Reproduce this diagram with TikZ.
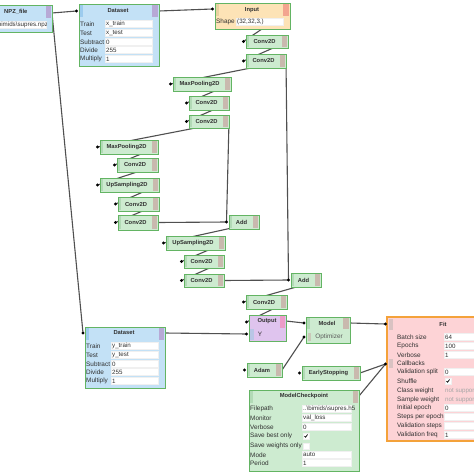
\documentclass[tikz,border=0pt]{standalone}
\usepackage{fontspec}
\setmainfont{Liberation Sans}
\pgfdeclarelayer{bg}
\pgfdeclarelayer{paper}
\pgfsetlayers{paper,bg,main}
\definecolor{gfillc}{HTML}{CDEBD0}
\definecolor{gbordc}{HTML}{63B463}
\definecolor{gbarc}{HTML}{C9B9AE}
\definecolor{gstripc}{HTML}{B2DAB6}
\definecolor{bfillc}{HTML}{C3E1F6}
\definecolor{bstripc}{HTML}{9CCBEE}
\definecolor{bbarc}{HTML}{B7A9D6}
\definecolor{ifillc}{HTML}{FDE3B6}
\definecolor{ibarc}{HTML}{F3A58F}
\definecolor{istripc}{HTML}{E8D2A0}
\definecolor{ofillc}{HTML}{DFC4EE}
\definecolor{obarc}{HTML}{EC9CC8}
\definecolor{ostripc}{HTML}{B9C6E6}
\definecolor{ffillc}{HTML}{FDD3D6}
\definecolor{fbordc}{HTML}{F4A23A}
\definecolor{fbarc}{HTML}{D9C2C2}
\definecolor{edgec}{HTML}{505050}
\definecolor{labc}{HTML}{303030}
\tikzset{
  gbox/.style={draw=gbordc,line width=1pt,fill=gfillc,inner sep=0pt},
  bbox/.style={draw=gbordc,line width=1pt,fill=bfillc,inner sep=0pt},
  ttl/.style={font=\fontsize{5.8}{6}\selectfont\bfseries,text=labc,inner sep=0pt},
  lab/.style={font=\fontsize{6.4}{7}\selectfont,text=labc,inner sep=0pt},
  val/.style={font=\fontsize{6.2}{7}\selectfont,text=labc,inner sep=0pt},
  fld/.style={fill=white,draw=white!88!gray,line width=0.3pt,minimum height=7.2pt,inner sep=0pt},
  edge/.style={draw=edgec,line width=1.1pt},
  port/.style={fill=black}
}
\newcommand{\gnode}[6]{%
  \node[gbox,minimum width={#4-#2},minimum height={#5-#3}] (#1) at ({(#2+#4)/2},{(#3+#5)/2}) {};
  \fill[gbarc] ({#4-6},{#3+1}) rectangle ({#4-1},{#5-1});
  \fill[gstripc] ({#2+0.8},{#3+1}) rectangle ({#2+3},{#5-1});
  \node[ttl] (#1-t) at ({(#2+#4)/2-2.5},{(#3+#5)/2}) {#6};
  \coordinate (#1-in) at ({#2-2.5},{(#3+#5)/2});
  \coordinate (#1-out) at (#4,{(#3+#5)/2});
  \fill[port] (#1-in) circle (1.7pt);
}
\newcommand{\frow}[7]{%
  \node[lab,anchor=west] (#1-l) at (#2,#5) {#6};
  \node[fld,minimum width={#4-#3},anchor=west] (#1-f) at (#3,#5) {};
  \node[val,anchor=west] (#1-v) at ({#3+1},#5) {#7};
}
\newcommand{\chk}[3]{%
  \node[fld,minimum width=5.5pt,minimum height=5.5pt] (#1) at (#2,#3) {};
  \draw[line width=0.7pt] ({#2-1.5},{#3}) -- ({#2-0.4},{#3+1.2}) -- ({#2+1.6},{#3-1.5});
}
\begin{document}
\begin{tikzpicture}[x=1pt,y=-1pt]
\begin{pgfonlayer}{paper}
\fill[white] (0,0) rectangle (474,474);
\end{pgfonlayer}
\useasboundingbox (0,0) rectangle (474,474);

% ---------- NPZ_file ----------
\node[bbox,minimum width=55,minimum height=27] (npz) at (24.5,18.5) {};
\fill[bbarc] (46,6) rectangle (51,18);
\node[ttl,anchor=west] (npz-t) at (4,12) {NPZ\_file};
\node[fld,minimum width=47,anchor=west] (npz-f) at (-1,25) {};
\begin{scope}
\clip (-1,20) rectangle (46,30);
\node[val,anchor=west] (npz-v) at (-4,25) {\textbackslash bimids\textbackslash supres.npz};
\end{scope}
\coordinate (npz-out) at (52,13);

% ---------- Dataset 1 ----------
\node[bbox,minimum width=80,minimum height=62] (ds1) at (119,35) {};
\fill[bstripc] (80,5) rectangle (83,17);
\fill[bbarc] (152,5) rectangle (158,17);
\node[ttl] (ds1-t) at (118,11) {Dataset};
\frow{ds1a}{80}{105}{152}{24}{Train}{x\_train}
\frow{ds1b}{80}{105}{152}{33}{Test}{x\_test}
\frow{ds1c}{80}{105}{152}{42}{Subtract}{0}
\frow{ds1d}{80}{105}{152}{50}{Divide}{255}
\frow{ds1e}{80}{105}{152}{59}{Multiply}{1}
\coordinate (ds1-in) at (76.5,11);
\coordinate (ds1-out) at (159,11);
\fill[port] (ds1-in) circle (1.7pt);

% ---------- Input ----------
\node[draw=gbordc,line width=1pt,fill=ifillc,minimum width=75,minimum height=26,inner sep=0pt] (inp) at (252.5,16) {};
\fill[istripc] (216,4) rectangle (219,16);
\fill[ibarc] (283,4) rectangle (289,16);
\node[ttl] (inp-t) at (252,10) {Input};
\node[lab,anchor=west] (inp-l) at (216,22) {Shape};
\node[fld,minimum width=47,anchor=west] (inp-f) at (236,22) {};
\node[val,anchor=west] (inp-v) at (237,22) {(32,32,3,)};
\coordinate (inp-in) at (212.5,9);
\coordinate (inp-out) at (290,10);
\fill[port] (inp-in) circle (1.7pt);

% ---------- layer chain ----------
\gnode{conva}{246}{35}{288}{48}{Conv2D}
\gnode{convb}{246}{54}{286}{68}{Conv2D}
\gnode{mpa}{173}{77}{231}{91}{MaxPooling2D}
\gnode{convc}{189}{96}{229}{110}{Conv2D}
\gnode{convd}{189}{115}{229}{128}{Conv2D}
\gnode{mpb}{100}{140}{158}{154}{MaxPooling2D}
\gnode{conve}{117}{158}{158}{172}{Conv2D}
\gnode{upa}{100}{178}{159}{192}{UpSampling2D}
\gnode{convf}{118}{197}{159}{211}{Conv2D}
\gnode{convg}{118}{215}{158}{230}{Conv2D}
\gnode{adda}{229}{215}{259}{229}{Add}
\gnode{upb}{166}{236}{225}{250}{UpSampling2D}
\gnode{convh}{184}{255}{224}{268}{Conv2D}
\gnode{convi}{184}{274}{224}{287}{Conv2D}
\gnode{addb}{291}{273}{321}{287}{Add}
\gnode{convj}{246}{295}{287}{309}{Conv2D}
\gnode{adam}{247}{363}{282}{377}{Adam}
\gnode{early}{302}{366}{360}{380}{EarlyStopping}

% ---------- Output ----------
\node[draw=gbordc,line width=1pt,fill=ofillc,minimum width=37,minimum height=26,inner sep=0pt] (outp) at (267.5,328) {};
\fill[obarc] (280,316) rectangle (285,328);
\fill[ostripc] (250,329) rectangle (254,340);
\node[ttl] (outp-t) at (267,321) {Output};
\node[lab] (outp-y) at (260,334) {Y};
\coordinate (outp-in1) at (246.5,322);
\coordinate (outp-in2) at (246.5,334);
\coordinate (outp-out) at (286,321);
\fill[port] (outp-in1) circle (1.7pt);
\fill[port] (outp-in2) circle (1.7pt);

% ---------- Model ----------
\node[gbox,minimum width=44,minimum height=26] (model) at (328,330) {};
\fill[gbarc] (343,318) rectangle (349,329);
\fill[gstripc] (307,318) rectangle (310,329);
\fill[gbarc!70!gfillc] (308,333) rectangle (311,341);
\node[ttl] (model-t) at (327,323) {Model};
\node[lab,text=labc!80!white] (model-o) at (329,337) {Optimizer};
\coordinate (model-in1) at (304,323);
\coordinate (model-in2) at (304,337);
\coordinate (model-out) at (350,323);
\fill[port] (model-in1) circle (1.7pt);
\fill[port] (model-in2) circle (1.7pt);

% ---------- Dataset 2 ----------
\node[bbox,minimum width=80,minimum height=61] (ds2) at (125,357.5) {};
\fill[bstripc] (86,328) rectangle (89,340);
\fill[bbarc] (159,328) rectangle (164,340);
\node[ttl] (ds2-t) at (124,333) {Dataset};
\frow{ds2a}{86}{111}{158}{346}{Train}{y\_train}
\frow{ds2b}{86}{111}{158}{355}{Test}{y\_test}
\frow{ds2c}{86}{111}{158}{364}{Subtract}{0}
\frow{ds2d}{86}{111}{158}{372}{Divide}{255}
\frow{ds2e}{86}{111}{158}{381}{Multiply}{1}
\coordinate (ds2-in) at (83,333);
\coordinate (ds2-out) at (165,333);
\fill[port] (ds2-in) circle (1.7pt);

% ---------- ModelCheckpoint ----------
\node[gbox,minimum width=110,minimum height=81] (mc) at (304,430.5) {};
\fill[gbarc] (353,391) rectangle (358,403);
\fill[gstripc] (250,391) rectangle (253,403);
\node[ttl] (mc-t) at (304,396) {ModelCheckpoint};
\frow{mca}{250}{302}{351}{409}{Filepath}{..\textbackslash bimids\textbackslash supres.h5}
\frow{mcb}{250}{302}{351}{418}{Monitor}{val\_loss}
\frow{mcc}{250}{302}{351}{427}{Verbose}{0}
\node[lab,anchor=west] (mcd-l) at (250,436) {Save best only};
\chk{mcd}{306}{436}
\node[lab,anchor=west] (mce-l) at (250,446) {Save weights only};
\node[fld,minimum width=5.5pt,minimum height=5.5pt] (mce) at (306,446) {};
\frow{mcf}{250}{302}{351}{455}{Mode}{auto}
\frow{mcg}{250}{302}{351}{463}{Period}{1}
\coordinate (mc-out) at (359,396);

% ---------- Fit ----------
\node[draw=fbordc,line width=1.3pt,fill=ffillc,minimum width=92,minimum height=124,inner sep=0pt] (fit) at (433,379) {};
\fill[fbarc] (389,319) rectangle (393,330);
\fill[fbarc] (389,359) rectangle (393,368);
\node[ttl] (fit-t) at (443,324) {Fit};
\frow{fa}{397}{444}{480}{337}{Batch size}{64}
\frow{fb}{397}{444}{480}{346}{Epochs}{100}
\frow{fc}{397}{444}{480}{355}{Verbose}{1}
\node[lab,anchor=west] (fd-l) at (397,363) {Callbacks};
\frow{fe}{397}{444}{480}{372}{Validation split}{0}
\node[lab,anchor=west] (ff-l) at (397,381) {Shuffle};
\chk{ff}{448}{381}
\node[lab,anchor=west] (fg-l) at (397,391) {Class weight};
\node[val,anchor=west,text=gray!70] (fg-v) at (445,391) {not supported};
\node[lab,anchor=west] (fh-l) at (397,400) {Sample weight};
\node[val,anchor=west,text=gray!70] (fh-v) at (445,400) {not supported};
\frow{fi}{397}{444}{480}{408}{Initial epoch}{0}
\frow{fj}{397}{444}{480}{417}{Steps per epoch}{}
\frow{fk}{397}{444}{480}{426}{Validation steps}{}
\frow{fl}{397}{444}{480}{435}{Validation freq}{1}
\coordinate (fit-in1) at (385.5,324);
\coordinate (fit-in2) at (385.5,364);
\fill[port] (fit-in1) circle (1.7pt);
\fill[port] (fit-in2) circle (1.7pt);

% ---------- connectors ----------
\begin{pgfonlayer}{bg}
\draw[edge] (npz-out) -- (ds1-in);
\draw[edge] (npz-out) -- (ds2-in);
\draw[edge] (ds1-out) -- (inp-in);
\draw[edge] (inp-out) -- (conva-in);
\draw[edge] (conva-out) -- (convb-in);
\draw[edge] (convb-out) -- (mpa-in);
\draw[edge] (convb-out) -- (addb-in);
\draw[edge] (mpa-out) -- (convc-in);
\draw[edge] (convc-out) -- (convd-in);
\draw[edge] (convd-out) -- (mpb-in);
\draw[edge] (convd-out) -- (adda-in);
\draw[edge] (mpb-out) -- (conve-in);
\draw[edge] (conve-out) -- (upa-in);
\draw[edge] (upa-out) -- (convf-in);
\draw[edge] (convf-out) -- (convg-in);
\draw[edge] (convg-out) -- (adda-in);
\draw[edge] (adda-out) -- (upb-in);
\draw[edge] (upb-out) -- (convh-in);
\draw[edge] (convh-out) -- (convi-in);
\draw[edge] (convi-out) -- (addb-in);
\draw[edge] (addb-out) -- (convj-in);
\draw[edge] (convj-out) -- (outp-in1);
\draw[edge] (ds2-out) -- (outp-in2);
\draw[edge] (outp-out) -- (model-in1);
\draw[edge] (adam-out) -- (model-in2);
\draw[edge] (model-out) -- (fit-in1);
\draw[edge] (early-out) -- (fit-in2);
\draw[edge] (mc-out) -- (fit-in2);
\end{pgfonlayer}
\end{tikzpicture}
\end{document}
